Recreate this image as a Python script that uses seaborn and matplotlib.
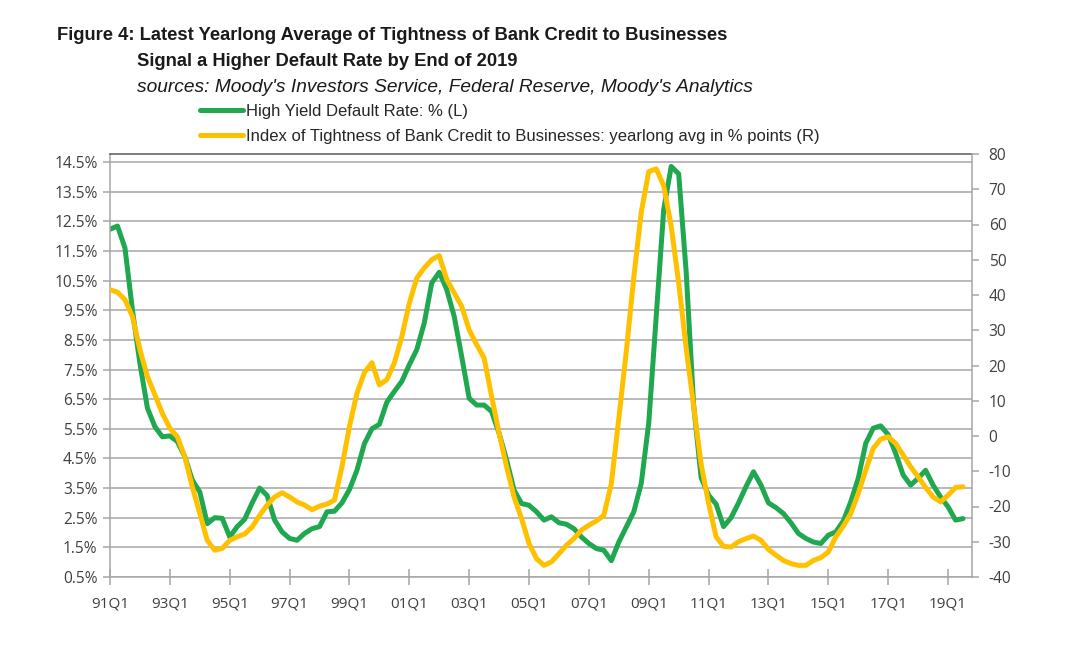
import matplotlib
matplotlib.use("Agg")
import matplotlib.pyplot as plt
import matplotlib.ticker as mticker
import numpy as np
import pandas as pd
import seaborn as sns

# quarterly values, 91Q1 .. 19Q3
default_rate = [
    12.23, 12.34, 11.6, 9.5, 7.7, 6.2, 5.57, 5.23, 5.26, 5.07,
    4.56, 3.77, 3.37, 2.3, 2.5, 2.48, 1.85, 2.2, 2.45, 3.0,
    3.5, 3.25, 2.42, 2.02, 1.8, 1.74, 1.97, 2.13, 2.2, 2.7,
    2.72, 3.0, 3.45, 4.1, 5.0, 5.5, 5.65, 6.4, 6.76, 7.1,
    7.66, 8.17, 9.07, 10.42, 10.78, 10.2, 9.29, 7.94, 6.53, 6.3,
    6.3, 6.08, 5.35, 4.45, 3.43, 2.98, 2.92, 2.7, 2.42, 2.53,
    2.33, 2.28, 2.13, 1.85, 1.63, 1.46, 1.4, 1.05, 1.68, 2.19,
    2.7, 3.66, 5.7, 9.3, 12.9, 14.35, 14.1, 10.8, 6.3, 3.85,
    3.26, 2.96, 2.2, 2.5, 3.0, 3.55, 4.05, 3.6, 3.0, 2.84,
    2.64, 2.33, 1.97, 1.8, 1.68, 1.63, 1.91, 2.02, 2.39, 3.04,
    3.83, 5.01, 5.52, 5.6, 5.3, 4.67, 3.94, 3.6, 3.83, 4.1,
    3.6, 3.2, 2.87, 2.42, 2.47,
]
credit_tightness = [
    41.5, 40.8, 38.7, 33.9, 24.5, 16.9, 11.7, 6.4, 2.2, -0.2,
    -5.9, -14.4, -22.0, -29.6, -32.4, -31.9, -29.6, -28.6, -27.8, -25.8,
    -22.5, -19.6, -17.3, -16.1, -17.3, -18.7, -19.6, -20.9, -19.9, -19.3,
    -18.2, -8.7, 2.7, 12.1, 18.0, 20.8, 14.5, 16.0, 20.7, 28.2,
    37.7, 44.8, 47.7, 50.0, 51.2, 44.4, 40.6, 36.8, 30.1, 25.9,
    22.1, 11.2, 0.8, -8.7, -17.3, -23.4, -30.5, -34.8, -36.7, -35.7,
    -33.4, -31.0, -29.1, -26.7, -25.3, -24.1, -22.5, -13.5, 5.0, 24.0,
    45.0, 63.5, 75.0, 75.8, 71.0, 59.5, 43.4, 25.0, 8.5, -8.0,
    -19.1, -28.6, -31.3, -31.5, -30.0, -29.1, -28.4, -29.6, -32.2, -33.8,
    -35.3, -36.2, -36.7, -36.7, -35.3, -34.5, -32.9, -28.6, -25.6, -22.0,
    -16.3, -9.7, -3.5, -0.9, -0.2, -2.1, -5.4, -8.7, -11.6, -14.6,
    -17.3, -18.7, -16.8, -14.6, -14.4,
]
tick_labels = ["91Q1", "93Q1", "95Q1", "97Q1", "99Q1", "01Q1", "03Q1", "05Q1",
               "07Q1", "09Q1", "11Q1", "13Q1", "15Q1", "17Q1", "19Q1"]

green = "#1FA84F"
gold = "#FFC000"
grey = "#A6A6A6"

df = pd.DataFrame({"q": np.arange(len(default_rate)),
                   "default": default_rate,
                   "tight": credit_tightness})

sns.set_style("white")
plt.rcParams["font.family"] = ["Open Sans", "DejaVu Sans"]
plt.rcParams["axes.unicode_minus"] = False

fig = plt.figure(figsize=(10.8, 6.56), dpi=100)
ax = fig.add_axes([110 / 1080, 1 - 577 / 656, 862 / 1080, 423 / 656])
ax2 = ax.twinx()

sns.lineplot(data=df, x="q", y="default", ax=ax, color=green, lw=3.6, legend=False)
sns.lineplot(data=df, x="q", y="tight", ax=ax2, color=gold, lw=3.6, legend=False)

ax.set_xlim(0, 115.2)
ax.set_ylim(0.5, 14.77)
ax2.set_ylim(-40, 80)

ax.set_yticks(np.arange(0.5, 15, 1))
ax.yaxis.set_major_formatter(mticker.FuncFormatter(lambda v, p: "{:.1f}%".format(v)))
ax2.set_yticks(range(-40, 81, 10))
ax.set_xticks(range(0, 113, 8))
ax.set_xticklabels(tick_labels)

ax.grid(axis="y", color=grey, lw=1.1)
ax.grid(axis="x", visible=False)
ax.set_axisbelow(True)
ax.set_xlabel("")
ax.set_ylabel("")
ax2.set_ylabel("")

for s in ["left", "bottom"]:
    ax.spines[s].set_color(grey)
    ax.spines[s].set_linewidth(1.1)
ax.spines["right"].set_visible(False)
ax.spines["top"].set_color("#595959")
ax.spines["top"].set_linewidth(1.1)
for s in ["left", "bottom", "top"]:
    ax2.spines[s].set_visible(False)
ax2.spines["right"].set_color(grey)
ax2.spines["right"].set_linewidth(1.1)

ax.tick_params(axis="y", direction="out", length=5, color=grey, width=1.1,
               labelsize=11.2, labelcolor="#404040", pad=4, left=True)
ax.tick_params(axis="x", direction="inout", length=12, color=grey, width=1.1,
               labelsize=11, labelcolor="#404040", pad=8, bottom=True)
ax2.tick_params(axis="y", direction="out", length=5, color=grey, width=1.1,
                labelsize=11.2, labelcolor="#404040", pad=7, right=True)

title_font = ["Liberation Sans Narrow", "Liberation Sans", "DejaVu Sans"]
fig.text(57 / 1080, 1 - 36 / 656, "Figure 4: Latest Yearlong Average of Tightness of Bank Credit to Businesses",
         family=title_font, weight="bold", fontsize=13.2, va="center", color="#1a1a1a")
fig.text(137 / 1080, 1 - 62 / 656, "Signal a Higher Default Rate by End of 2019",
         family=title_font, weight="bold", fontsize=13.2, va="center", color="#1a1a1a")
fig.text(137 / 1080, 1 - 88 / 656, "sources: Moody's Investors Service, Federal Reserve, Moody's Analytics",
         family=title_font, style="italic", fontsize=13.8, va="center", color="#1a1a1a")

handles = [ax.get_lines()[0], ax2.get_lines()[0]]
fig.legend(handles, ["High Yield Default Rate: % (L)",
                     "Index of Tightness of Bank Credit to Businesses: yearlong avg in % points (R)"],
           loc="upper left", bbox_to_anchor=(200 / 1080, 1 - 104 / 656), frameon=False,
           handlelength=2.6, handletextpad=0.15, labelspacing=0.6,
           borderaxespad=0, borderpad=0, prop={"family": title_font, "size": 12})

fig.savefig("out.png", dpi=100)
